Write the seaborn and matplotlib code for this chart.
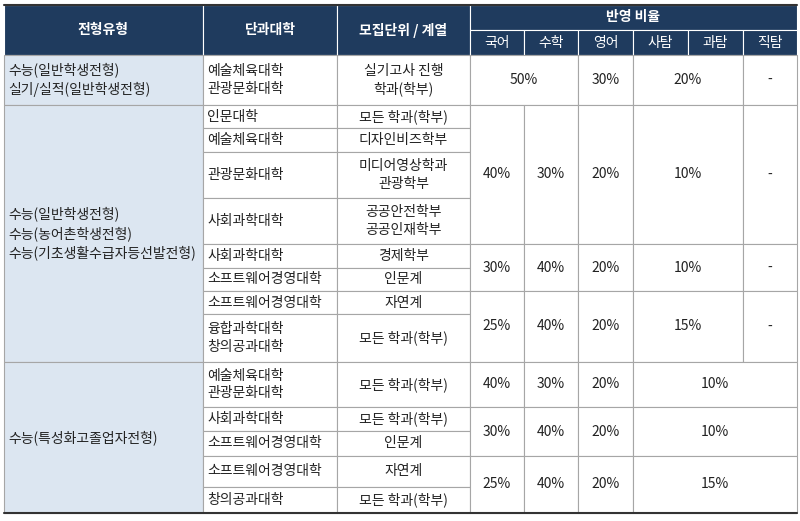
import numpy as np
import pandas as pd
import seaborn as sns
import matplotlib.pyplot as plt
from matplotlib.patches import Rectangle
from matplotlib import font_manager

sns.set_theme(style="white")
# pick whichever CJK family is actually registered
_names = {f.name for f in font_manager.fontManager.ttflist}
_cjk = [n for n in ['Noto Sans CJK KR', 'Noto Sans CJK JP', 'Noto Sans CJK SC', 'Noto Sans CJK TC'] if n in _names]
plt.rcParams['font.family'] = 'sans-serif'
plt.rcParams['font.sans-serif'] = _cjk + ['DejaVu Sans']

# column / row edges of the table grid (pixels)
col_edges = [4, 203, 337, 470, 524, 578, 633, 688, 743, 797]
row_edges = [5, 30, 55, 80, 105, 128, 152, 198, 244, 268, 291, 314, 362, 407, 431, 456, 487, 513]

subjects = ['국어', '수학', '영어', '사탐', '과탐', '직탐']

groups = ['수능(일반학생전형)\n실기/실적(일반학생전형)',
          '수능(일반학생전형)\n수능(농어촌학생전형)\n수능(기초생활수급자등선발전형)',
          '수능(특성화고졸업자전형)']
group_rows = [(2, 4), (4, 12), (12, 17)]

colleges = [('예술체육대학\n관광문화대학', 2, 4),
            ('인문대학', 4, 5), ('예술체육대학', 5, 6), ('관광문화대학', 6, 7), ('사회과학대학', 7, 8),
            ('사회과학대학', 8, 9), ('소프트웨어경영대학', 9, 10), ('소프트웨어경영대학', 10, 11),
            ('융합과학대학\n창의공과대학', 11, 12),
            ('예술체육대학\n관광문화대학', 12, 13), ('사회과학대학', 13, 14), ('소프트웨어경영대학', 14, 15),
            ('소프트웨어경영대학', 15, 16), ('창의공과대학', 16, 17)]

units = [('실기고사 진행\n학과(학부)', 2, 4),
         ('모든 학과(학부)', 4, 5), ('디자인비즈학부', 5, 6), ('미디어영상학과\n관광학부', 6, 7),
         ('공공안전학부\n공공인재학부', 7, 8), ('경제학부', 8, 9), ('인문계', 9, 10), ('자연계', 10, 11),
         ('모든 학과(학부)', 11, 12),
         ('모든 학과(학부)', 12, 13), ('모든 학과(학부)', 13, 14), ('인문계', 14, 15),
         ('자연계', 15, 16), ('모든 학과(학부)', 16, 17)]

# ratio cells: (text, col_start, col_end, row_start, row_end)
ratios = [('50%', 3, 5, 2, 4), ('30%', 5, 6, 2, 4), ('20%', 6, 8, 2, 4), ('-', 8, 9, 2, 4),
          ('40%', 3, 4, 4, 8), ('30%', 4, 5, 4, 8), ('20%', 5, 6, 4, 8), ('10%', 6, 8, 4, 8), ('-', 8, 9, 4, 8),
          ('30%', 3, 4, 8, 10), ('40%', 4, 5, 8, 10), ('20%', 5, 6, 8, 10), ('10%', 6, 8, 8, 10), ('-', 8, 9, 8, 10),
          ('25%', 3, 4, 10, 12), ('40%', 4, 5, 10, 12), ('20%', 5, 6, 10, 12), ('15%', 6, 8, 10, 12), ('-', 8, 9, 10, 12),
          ('40%', 3, 4, 12, 13), ('30%', 4, 5, 12, 13), ('20%', 5, 6, 12, 13), ('10%', 6, 9, 12, 13),
          ('30%', 3, 4, 13, 15), ('40%', 4, 5, 13, 15), ('20%', 5, 6, 13, 15), ('10%', 6, 9, 13, 15),
          ('25%', 3, 4, 15, 17), ('40%', 4, 5, 15, 17), ('20%', 5, 6, 15, 17), ('15%', 6, 9, 15, 17)]

navy = '#1f3b5e'
light = '#dce6f1'
grid = '#a6a6a6'

fig, ax = plt.subplots(figsize=(8, 5.21), dpi=100)
fig.subplots_adjust(0, 0, 1, 1)
ax.set_xlim(0, 800)
ax.set_ylim(521, 0)
ax.axis('off')


def cell(c0, c1, r0, r1, text, fill='white', ha='center', color='#222222', bold=False, edge=grid, ls=1.3):
    x0, x1 = col_edges[c0], col_edges[c1]
    y0, y1 = row_edges[r0], row_edges[r1]
    ax.add_patch(Rectangle((x0, y0), x1 - x0, y1 - y0, facecolor=fill, edgecolor=edge, lw=0.8))
    tx = x0 + 4 if ha == 'left' else (x0 + x1) / 2
    ax.text(tx, (y0 + y1) / 2, text, ha=ha, va='center', fontsize=10, color=color,
            fontweight='bold' if bold else 'normal', linespacing=ls)


# header
for txt, c in zip(['전형유형', '단과대학', '모집단위 / 계열'], range(3)):
    cell(c, c + 1, 0, 2, txt, fill=navy, color='white', bold=True, edge='white')
cell(3, 9, 0, 1, '반영 비율', fill=navy, color='white', bold=True, edge='white')
for i, s in enumerate(subjects):
    cell(3 + i, 4 + i, 1, 2, s, fill=navy, color='white', edge='white')

for g, (r0, r1) in zip(groups, group_rows):
    cell(0, 1, r0, r1, g, fill=light, ha='left', ls=1.4)
for t, r0, r1 in colleges:
    cell(1, 2, r0, r1, t, ha='left')
for t, r0, r1 in units:
    cell(2, 3, r0, r1, t)
for t, c0, c1, r0, r1 in ratios:
    cell(c0, c1, r0, r1, t)

ax.plot([col_edges[0], col_edges[-1]], [row_edges[0], row_edges[0]], color='#333333', lw=1.5)
ax.plot([col_edges[0], col_edges[-1]], [row_edges[-1], row_edges[-1]], color='#333333', lw=1.5)

fig.savefig('out.png', dpi=100)
